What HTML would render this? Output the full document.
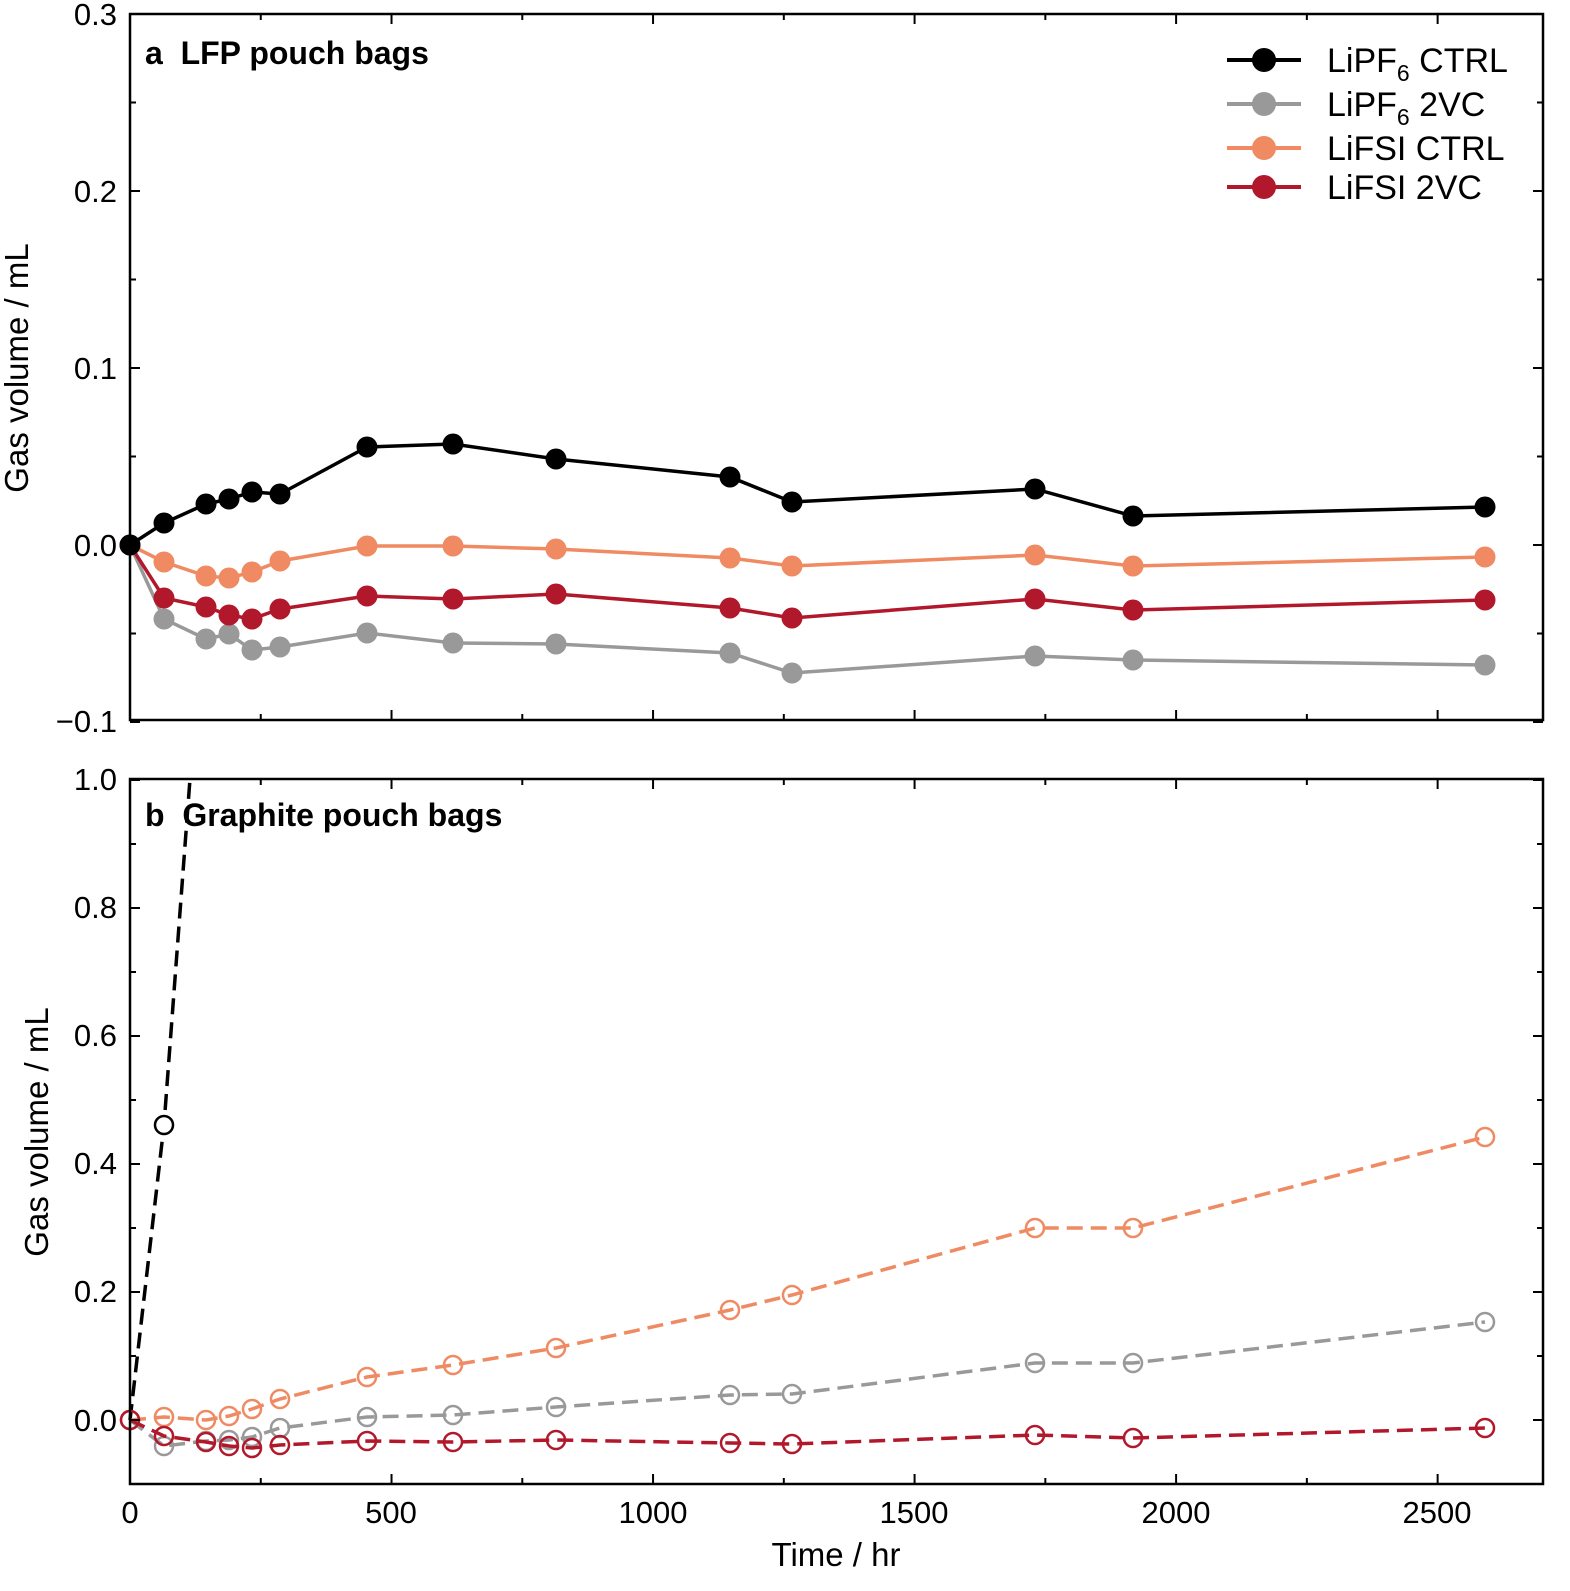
<!DOCTYPE html>
<html><head><meta charset="utf-8"><style>
html,body{margin:0;padding:0;background:#fff;}
svg{display:block;font-family:"Liberation Sans",Arial,sans-serif;}
</style></head><body>
<svg id="s" width="1570" height="1591" viewBox="0 0 1570 1591" xmlns="http://www.w3.org/2000/svg">
<g id="plot"></g>
<rect x="130" y="14" width="1413" height="706" fill="none" stroke="#000" stroke-width="2.5"/>
<rect x="130" y="779" width="1413" height="705" fill="none" stroke="#000" stroke-width="2.5"/>
<g id="ticks" stroke="#000" stroke-width="2"></g>
<g font-size="31" fill="#000" text-anchor="end">
<text x="117" y="25">0.3</text>
<text x="117" y="202">0.2</text>
<text x="117" y="379">0.1</text>
<text x="117" y="556">0.0</text>
<text x="117" y="732">−0.1</text>
<text x="117" y="790">1.0</text>
<text x="117" y="918">0.8</text>
<text x="117" y="1046">0.6</text>
<text x="117" y="1174">0.4</text>
<text x="117" y="1302">0.2</text>
<text x="117" y="1431">0.0</text>
</g>
<g font-size="31" fill="#000" text-anchor="middle">
<text x="130" y="1523">0</text>
<text x="391" y="1523">500</text>
<text x="653" y="1523">1000</text>
<text x="914" y="1523">1500</text>
<text x="1176" y="1523">2000</text>
<text x="1437" y="1523">2500</text>
</g>
<g font-size="33" fill="#000" text-anchor="middle">
<text x="836" y="1566">Time / hr</text>
<text transform="translate(28,368) rotate(-90)">Gas volume / mL</text>
<text transform="translate(48,1132) rotate(-90)">Gas volume / mL</text>
</g>
<text x="145" y="64" font-size="32" font-weight="bold" xml:space="preserve">a  LFP pouch bags</text>
<text x="145" y="826" font-size="32" font-weight="bold" xml:space="preserve">b  Graphite pouch bags</text>
<g font-size="34" fill="#000">
<text x="1327" y="72">LiPF<tspan font-size="23" dy="9">6</tspan><tspan dy="-9"> CTRL</tspan></text>
<text x="1327" y="116">LiPF<tspan font-size="23" dy="9">6</tspan><tspan dy="-9"> 2VC</tspan></text>
<text x="1327" y="160">LiFSI CTRL</text>
<text x="1327" y="199">LiFSI 2VC</text>
</g>
<g id="leg"></g>
</svg>
<script>
var NS="http://www.w3.org/2000/svg";
function el(p,t,a){var e=document.createElementNS(NS,t);for(var k in a)e.setAttribute(k,a[k]);p.appendChild(e);return e;}
var plot=document.getElementById('plot'),ticks=document.getElementById('ticks'),leg=document.getElementById('leg');
var xs=[130,164,206,229,252,280,367,453,556,730,792,1035,1133,1485];
var BK="#000",GR="#999",OR="#EF8A62",RD="#B2182B";
var A={};
A[BK]=[545,523,504,499,492,494,447,444,459,477,502,489,516,507];
A[OR]=[545,562,576,578,572,561,546,546,549,558,566,555,566,557];
A[RD]=[545,598,607,615,619,609,596,599,594,608,618,599,610,600];
A[GR]=[545,619,639,634,650,647,633,643,644,653,673,656,660,665];
var B={};
B[GR]=[1420,1446,1441,1440,1437,1428,1417,1415,1407,1395,1394,1363,1363,1322];
B[OR]=[1420,1417,1420,1416,1409,1399,1377,1365,1348,1310,1295,1228,1228,1137];
B[RD]=[1420,1436,1442,1446,1448,1445,1441,1442,1440,1443,1444,1435,1438,1428];
[GR,RD,OR,BK].forEach(function(c){var y=A[c];
 el(plot,'polyline',{points:xs.map(function(x,i){return x+','+y[i]}).join(' '),fill:'none',stroke:c,'stroke-width':3.5});
 xs.forEach(function(x,i){el(plot,'circle',{cx:x,cy:y[i],r:10.5,fill:c});});});
el(plot,'polyline',{points:'130,1420 164,1125 190,779',fill:'none',stroke:BK,'stroke-width':3.5,'stroke-dasharray':'16,8'});
el(plot,'circle',{cx:164,cy:1125,r:9,fill:'#fff',stroke:BK,'stroke-width':2.5});
[GR,OR,RD].forEach(function(c){var y=B[c];
 el(plot,'polyline',{points:xs.map(function(x,i){return x+','+y[i]}).join(' '),fill:'none',stroke:c,'stroke-width':3.5,'stroke-dasharray':'16,8'});
 xs.forEach(function(x,i){el(plot,'circle',{cx:x,cy:y[i],r:9,fill:'none',stroke:c,'stroke-width':2.5});});});
[[BK,60],[GR,104],[OR,148],[RD,187]].forEach(function(d){
 el(leg,'line',{x1:1227,x2:1301,y1:d[1],y2:d[1],stroke:d[0],'stroke-width':4});
 el(leg,'circle',{cx:1264,cy:d[1],r:12,fill:d[0]});});
function tk(x1,y1,x2,y2){el(ticks,'line',{x1:x1,y1:y1,x2:x2,y2:y2});}
for(var h=0;h<=2700;h+=250){var x=130+h*0.52305;var L=(h%500==0)?10:6;
 [[14,720],[779,1484]].forEach(function(p){tk(x,p[0],x,p[0]+L);tk(x,p[1],x,p[1]-L);});}
for(var v=-0.1;v<=0.3001;v+=0.05){var y=545-v*1770;var L=(Math.round(v*100)%10==0)?10:6;tk(130,y,130+L,y);tk(1543,y,1543-L,y);}
for(var v=-0.1;v<=1.0001;v+=0.1){var y=1420-v*640;var L=(Math.round(v*10)%2==0)?10:6;tk(130,y,130+L,y);tk(1543,y,1543-L,y);}
</script>
</body></html>
